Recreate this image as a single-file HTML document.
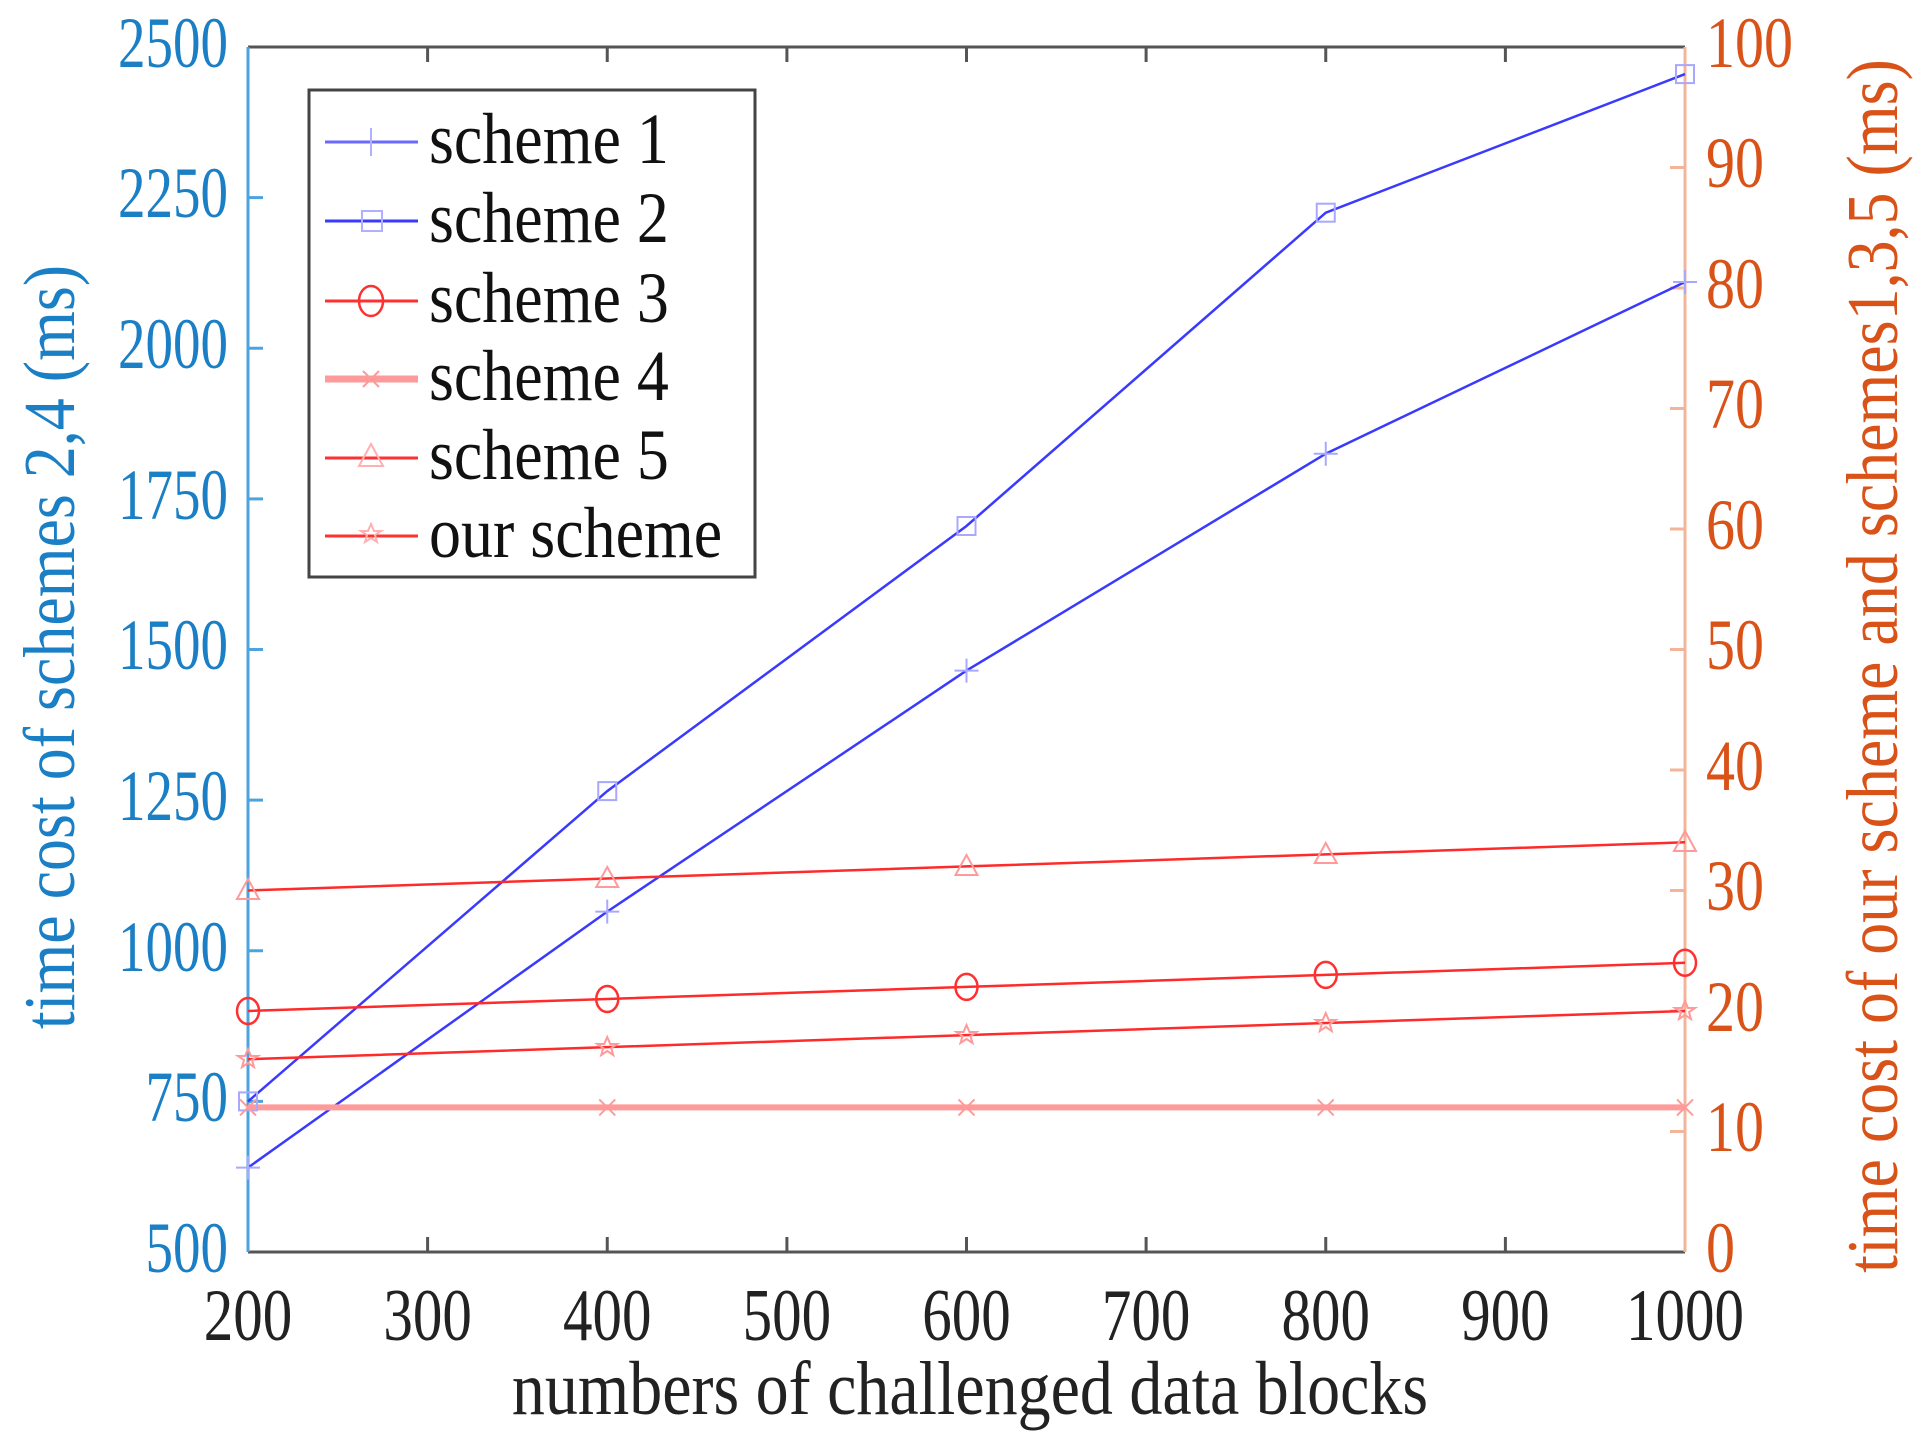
<!DOCTYPE html>
<html><head><meta charset="utf-8"><style>body{margin:0;background:#fff}svg{display:block}</style></head><body>
<svg width="1915" height="1446" viewBox="0 0 1915 1446" xmlns="http://www.w3.org/2000/svg" font-family="Liberation Serif, serif">
<rect width="1915" height="1446" fill="#fff"/>
<line x1="248" y1="47" x2="1685" y2="47" stroke="#555" stroke-width="3"/>
<line x1="248" y1="1252" x2="1685" y2="1252" stroke="#555" stroke-width="3"/>
<line x1="248" y1="47" x2="248" y2="1252" stroke="#4da3dc" stroke-width="3"/>
<line x1="1685" y1="47" x2="1685" y2="1252" stroke="#f4b49a" stroke-width="3"/>
<g stroke="#555" stroke-width="3">
<line x1="427.6" y1="1252" x2="427.6" y2="1237"/><line x1="607.25" y1="1252" x2="607.25" y2="1237"/><line x1="786.9" y1="1252" x2="786.9" y2="1237"/><line x1="966.5" y1="1252" x2="966.5" y2="1237"/><line x1="1146.1" y1="1252" x2="1146.1" y2="1237"/><line x1="1325.75" y1="1252" x2="1325.75" y2="1237"/><line x1="1505.4" y1="1252" x2="1505.4" y2="1237"/>
<line x1="427.6" y1="47" x2="427.6" y2="62"/><line x1="607.25" y1="47" x2="607.25" y2="62"/><line x1="786.9" y1="47" x2="786.9" y2="62"/><line x1="966.5" y1="47" x2="966.5" y2="62"/><line x1="1146.1" y1="47" x2="1146.1" y2="62"/><line x1="1325.75" y1="47" x2="1325.75" y2="62"/><line x1="1505.4" y1="47" x2="1505.4" y2="62"/>
</g>
<g stroke="#4da3dc" stroke-width="3">
<line x1="248" y1="1101.4" x2="263" y2="1101.4"/><line x1="248" y1="950.75" x2="263" y2="950.75"/><line x1="248" y1="800.1" x2="263" y2="800.1"/><line x1="248" y1="649.5" x2="263" y2="649.5"/><line x1="248" y1="498.9" x2="263" y2="498.9"/><line x1="248" y1="348.25" x2="263" y2="348.25"/><line x1="248" y1="197.6" x2="263" y2="197.6"/>
</g>
<g stroke="#f4b49a" stroke-width="3">
<line x1="1685" y1="1131.5" x2="1670" y2="1131.5"/><line x1="1685" y1="1011" x2="1670" y2="1011"/><line x1="1685" y1="890.5" x2="1670" y2="890.5"/><line x1="1685" y1="770" x2="1670" y2="770"/><line x1="1685" y1="649.5" x2="1670" y2="649.5"/><line x1="1685" y1="529" x2="1670" y2="529"/><line x1="1685" y1="408.5" x2="1670" y2="408.5"/><line x1="1685" y1="288" x2="1670" y2="288"/><line x1="1685" y1="167.5" x2="1670" y2="167.5"/>
</g>
<g fill="#1a7fc4" font-size="55" text-anchor="end">
<text transform="translate(228,1272) scale(1,1.3)">500</text><text transform="translate(228,1121) scale(1,1.3)">750</text><text transform="translate(228,971) scale(1,1.3)">1000</text><text transform="translate(228,820) scale(1,1.3)">1250</text><text transform="translate(228,669) scale(1,1.3)">1500</text><text transform="translate(228,519) scale(1,1.3)">1750</text><text transform="translate(228,368) scale(1,1.3)">2000</text><text transform="translate(228,217) scale(1,1.3)">2250</text><text transform="translate(228,67) scale(1,1.3)">2500</text>
</g>
<g fill="#d95319" font-size="58" text-anchor="start">
<text transform="translate(1706,1272) scale(1,1.25)">0</text><text transform="translate(1706,1151) scale(1,1.25)">10</text><text transform="translate(1706,1031) scale(1,1.25)">20</text><text transform="translate(1706,910) scale(1,1.25)">30</text><text transform="translate(1706,790) scale(1,1.25)">40</text><text transform="translate(1706,669) scale(1,1.25)">50</text><text transform="translate(1706,549) scale(1,1.25)">60</text><text transform="translate(1706,428) scale(1,1.25)">70</text><text transform="translate(1706,308) scale(1,1.25)">80</text><text transform="translate(1706,187) scale(1,1.25)">90</text><text transform="translate(1706,67) scale(1,1.25)">100</text>
</g>
<g fill="#222" font-size="59" text-anchor="middle">
<text transform="translate(248,1340) scale(1,1.25)">200</text><text transform="translate(427.6,1340) scale(1,1.25)">300</text><text transform="translate(607.25,1340) scale(1,1.25)">400</text><text transform="translate(786.9,1340) scale(1,1.25)">500</text><text transform="translate(966.5,1340) scale(1,1.25)">600</text><text transform="translate(1146.1,1340) scale(1,1.25)">700</text><text transform="translate(1325.75,1340) scale(1,1.25)">800</text><text transform="translate(1505.4,1340) scale(1,1.25)">900</text><text transform="translate(1685,1340) scale(1,1.25)">1000</text>
</g>
<text transform="translate(970,1414) scale(1,1.15)" font-size="66" fill="#222" text-anchor="middle">numbers of challenged data blocks</text>
<text transform="translate(74,647) rotate(-90) scale(1,1.15)" font-size="64" fill="#1a7fc4" text-anchor="middle">time cost of schemes 2,4 (ms)</text>
<text transform="translate(1897,666) rotate(-90) scale(1,1.15)" font-size="64" fill="#d95319" text-anchor="middle">time cost of our scheme and schemes1,3,5 (ms)</text>
<g fill="none">
<polyline points="248,1167.6 607.25,911.6 966.5,670.6 1325.75,453.7 1685,282" stroke="#3a3aff" stroke-width="2.5"/>
<polyline points="248,1101.4 607.25,791.1 966.5,526 1325.75,212.7 1685,74.1" stroke="#3a3aff" stroke-width="2.5"/>
<polyline points="248,1011 607.25,998.95 966.5,986.9 1325.75,974.85 1685,962.8" stroke="#ff2a2a" stroke-width="2.5"/>
<polyline points="248,1107.4 1685,1107.4" stroke="#ff9a9a" stroke-width="6"/>
<polyline points="248,890.5 607.25,878.45 966.5,866.4 1325.75,854.35 1685,842.3" stroke="#ff2a2a" stroke-width="2.5"/>
<polyline points="248,1059.2 607.25,1047.15 966.5,1035.1 1325.75,1023.05 1685,1011" stroke="#ff2a2a" stroke-width="2.5"/>
</g>
<g stroke="#a8a8ff" stroke-width="2" fill="none">
<path d="M236,1167.6h24M248,1155.6v24M595.25,911.6h24M607.25,899.6v24M954.5,670.6h24M966.5,658.6v24M1313.75,453.7h24M1325.75,441.7v24M1673,282h24M1685,270v24"/>
<rect x="239" y="1092.4" width="18" height="18"/><rect x="598.25" y="782.1" width="18" height="18"/><rect x="957.5" y="517" width="18" height="18"/><rect x="1316.75" y="203.7" width="18" height="18"/><rect x="1676" y="65.1" width="18" height="18"/>
</g>
<g stroke="#ff3030" stroke-width="2.5" fill="none">
<ellipse cx="248" cy="1011" rx="11" ry="13"/><ellipse cx="607.25" cy="998.95" rx="11" ry="13"/><ellipse cx="966.5" cy="986.9" rx="11" ry="13"/><ellipse cx="1325.75" cy="974.85" rx="11" ry="13"/><ellipse cx="1685" cy="962.8" rx="11" ry="13"/>
</g>
<g stroke="#ff9a9a" stroke-width="2" fill="none">
<path d="M240,1099.4l16,16M240,1115.4l16,-16M599.25,1099.4l16,16M599.25,1115.4l16,-16M958.5,1099.4l16,16M958.5,1115.4l16,-16M1317.75,1099.4l16,16M1317.75,1115.4l16,-16M1677,1099.4l16,16M1677,1115.4l16,-16"/>
<path d="M248,879l-11,20h22zM607.25,867l-11,20h22zM966.5,855l-11,20h22zM1325.75,843l-11,20h22zM1685,831l-11,20h22z"/>
<path d="M248,1049l3,7h7l-6,4 2,7-6,-4-6,4 2,-7-6,-4h7z"/>
<path d="M607.25,1037l3,7h7l-6,4 2,7-6,-4-6,4 2,-7-6,-4h7z"/>
<path d="M966.5,1025l3,7h7l-6,4 2,7-6,-4-6,4 2,-7-6,-4h7z"/>
<path d="M1325.75,1013l3,7h7l-6,4 2,7-6,-4-6,4 2,-7-6,-4h7z"/>
<path d="M1685,1001l3,7h7l-6,4 2,7-6,-4-6,4 2,-7-6,-4h7z"/>
</g>
<rect x="309" y="90" width="446" height="487" fill="#fff" stroke="#444" stroke-width="3"/>
<g fill="none">
<line x1="325" y1="142" x2="418" y2="142" stroke="#6a6aff" stroke-width="3"/>
<path d="M371,128v28" stroke="#b0b0ff" stroke-width="2"/>
<line x1="325" y1="221" x2="418" y2="221" stroke="#3a3aff" stroke-width="3"/>
<rect x="362" y="211" width="20" height="20" stroke="#b0b0ff" stroke-width="2"/>
<line x1="325" y1="301" x2="418" y2="301" stroke="#ff3030" stroke-width="3"/>
<ellipse cx="371" cy="301" rx="12" ry="15" stroke="#ff3030" stroke-width="2.5"/>
<line x1="325" y1="379" x2="418" y2="379" stroke="#ff9a9a" stroke-width="7"/>
<path d="M363,371l16,16M363,387l16,-16" stroke="#ff9a9a" stroke-width="2"/>
<line x1="325" y1="458" x2="418" y2="458" stroke="#ff3030" stroke-width="3"/>
<path d="M371,444l-12,22h24z" stroke="#ffb0b0" stroke-width="2"/>
<line x1="325" y1="536" x2="418" y2="536" stroke="#ff3030" stroke-width="3"/>
<path d="M371,524l3,7h7l-6,4 2,7-6,-4-6,4 2,-7-6,-4h7z" stroke="#ffb0b0" stroke-width="2"/>
</g>
<g fill="#111" font-size="64">
<text transform="translate(429,163) scale(1,1.12)">scheme 1</text><text transform="translate(429,242) scale(1,1.12)">scheme 2</text><text transform="translate(429,322) scale(1,1.12)">scheme 3</text><text transform="translate(429,400) scale(1,1.12)">scheme 4</text><text transform="translate(429,479) scale(1,1.12)">scheme 5</text><text transform="translate(429,557) scale(1,1.12)">our scheme</text>
</g>
</svg>
</body></html>
